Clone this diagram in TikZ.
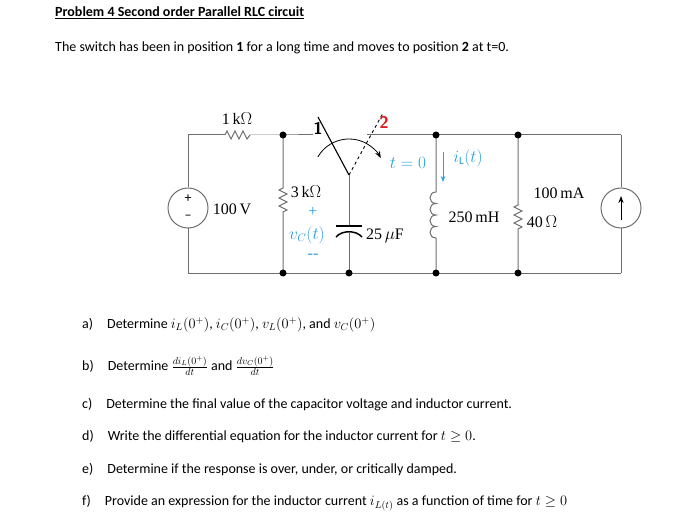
\documentclass[tikz,border=0pt]{standalone}
\usepackage{fontspec}
\setmainfont{Carlito}
\newfontfamily\tms{Liberation Serif}
\usetikzlibrary{arrows.meta,calc}
\definecolor{cblue}{RGB}{40,160,220}
\definecolor{cred}{RGB}{220,30,30}
\definecolor{wire}{RGB}{110,110,110}
\begin{document}
\begin{tikzpicture}[x=1pt,y=-1pt,
  w/.style={draw=wire,line width=1pt},
  dot/.style={circle,fill=black,inner sep=0pt,minimum size=7pt},
  lbl/.style={font=\tms\fontsize{16}{16}\selectfont,inner sep=1pt},
  q/.style={anchor=west,font=\fontsize{14}{16}\selectfont,inner sep=0pt}]
\useasboundingbox (0,0) rectangle (700,526);
% texts
\node[anchor=west,inner sep=0pt,font=\bfseries\fontsize{14}{16}\selectfont] (title) at (55,13) {\underline{Problem 4 Second order Parallel RLC circuit}};
\node[q] (intro) at (55,48) {The switch has been in position \textbf{1} for a long time and moves to position \textbf{2} at t=0.};
\node[q] (qa) at (82,325) {a)\quad Determine $i_L(0^+)$, $i_C(0^+)$, $v_L(0^+)$, and $v_C(0^+)$};
\node[q] (qb) at (82,366) {b)\quad Determine $\frac{di_L(0^+)}{dt}$ and $\frac{dv_C(0^+)}{dt}$};
\node[q] (qc) at (82,405) {c)\quad Determine the final value of the capacitor voltage and inductor current.};
\node[q] (qd) at (82,437) {d)\quad Write the differential equation for the inductor current for $t\geq0$.};
\node[q] (qe) at (82,470) {e)\quad Determine if the response is over, under, or critically damped.};
\node[q] (qf) at (82,503) {f)\quad Provide an expression for the inductor current $i_{L(t)}$ as a function of time for $t\geq0$};
% coordinates
\coordinate (tl) at (188,135); \coordinate (bl) at (188,273);
\coordinate (ra) at (225,135); \coordinate (rb) at (250,135);
\coordinate (n1) at (283,135); \coordinate (b1) at (283,273);
\coordinate (s1) at (313,135); \coordinate (s1e) at (318,117);
\coordinate (s2) at (367,135); \coordinate (s2e) at (383,113);
\coordinate (pv) at (349,175); \coordinate (b2) at (349,273);
\coordinate (n3) at (436,135); \coordinate (b3) at (436,273);
\coordinate (n4) at (518,135); \coordinate (b4) at (518,273);
\coordinate (tr) at (621,135); \coordinate (br) at (621,273);
% voltage source
\node[circle,draw=wire,line width=1pt,minimum size=40pt,inner sep=0pt] (vs) at (188,208) {};
\node[font=\fontsize{14}{14}\selectfont] (vp) at (188,199) {+};
\node[font=\fontsize{14}{14}\selectfont] (vm) at (188,217) {--};
\draw[w] (vs.north) -- (tl) -- (ra);
\draw[w] (ra) -- ++(2,-4) -- ++(4,8) -- ++(4,-8) -- ++(4,8) -- ++(4,-8) -- ++(4,8) -- ++(3,-4) -- (rb);
\draw[w] (rb) -- (n1) -- (s1);
\draw[w] (vs.south) -- (bl) -- (br);
% 3k
\draw[w] (n1) -- (283,188) -- ++(-4,2) -- ++(8,4) -- ++(-8,4) -- ++(8,4) -- ++(-8,4) -- ++(8,4) -- ++(-4,2) -- (b1);
% switch
\draw[line width=1.1pt] (pv) -- (s1e);
\draw[line width=0.9pt,dashed] (pv) -- (s2e);
\draw[line width=0.8pt,-{Stealth[length=7pt]}] ($(pv)+(-150:36)$) arc[start angle=-150,end angle=-28,radius=36];
\draw[w] (s2) -- (tr);
% capacitor
\draw[w] (pv) -- (349,226);
\draw[line width=2.2pt] (336,226) -- (362,226);
\draw[line width=1.5pt] (336,237) .. controls (342,230) and (356,230) .. (362,237);
\draw[w] (349,232) -- (b2);
% inductor
\draw[w] (n3) -- (436,192)
  .. controls (428,192) and (428,203.5) .. (436,203.5)
  .. controls (428,203.5) and (428,215) .. (436,215)
  .. controls (428,215) and (428,226.5) .. (436,226.5)
  .. controls (428,226.5) and (428,238) .. (436,238) -- (b3);
% 40 ohm
\draw[w] (n4) -- (518,205) -- ++(-4,2) -- ++(8,4) -- ++(-8,4) -- ++(8,4) -- ++(-8,4) -- ++(8,4) -- ++(-4,2) -- (b4);
% current source
\node[circle,draw=wire,line width=1pt,minimum size=40pt,inner sep=0pt] (cs) at (621,208) {};
\draw[w] (tr) -- (cs.north); \draw[w] (cs.south) -- (br);
\draw[line width=1pt,-{Stealth[length=7pt]}] (621,220) -- (621,196);
% dots
\foreach \p in {n1,b1,b2,n3,b3,n4,b4} \node[dot] at (\p) {};
% labels
\node[lbl] (l1k) at (237,119) {1\,k$\Omega$};
\node[font=\bfseries\sffamily\fontsize{17}{17}\selectfont] (l1) at (318,128) {1};
\node[font=\bfseries\sffamily\fontsize{17}{17}\selectfont,text=cred] (l2) at (384,122) {2};
\node[lbl] (l100) at (232,209) {100\,V};
\node[lbl] (l3k) at (306,192) {3\,k$\Omega$};
\node[lbl,text=cblue] (lp) at (313,212) {+};
\node[lbl,text=cblue] (lvc) at (307,235) {$v_C(t)$};
\node[lbl,text=cblue] (lm) at (313,256) {--};
\node[lbl] (l25) at (385,236) {25\,$\mu$F};
\node[lbl,text=cblue] (lt) at (408,163) {$t=0$};
\node[lbl,text=cblue] (lil) at (468,158) {$i_{\mathrm{L}}(t)$};
\draw[cblue,line width=0.8pt,-{Stealth[length=6pt]}] (443,152) -- (443,182);
\node[lbl] (l250) at (474,217) {250\,mH};
\node[lbl] (lma) at (559,193) {100\,mA};
\node[lbl] (l40) at (542,222) {40\,$\Omega$};
\end{tikzpicture}
\end{document}
